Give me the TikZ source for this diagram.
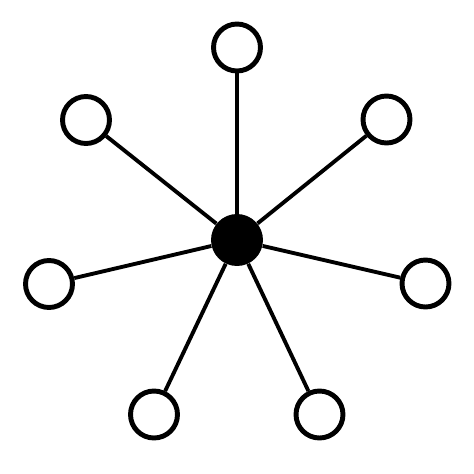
\documentclass[tikz,border=0pt]{standalone}
\usepackage{tikz}

\tikzset{
    leaf/.style={circle, draw=black, fill=white, line width=2.8pt, inner sep=0pt, minimum size=0.94cm},
    hub/.style={circle, fill=black, inner sep=0pt, minimum size=1.04cm},
    spoke/.style={line width=2.2pt, black}
}

\begin{document}
\begin{tikzpicture}[x=0.02cm, y=-0.02cm]
    % Frame of the picture (pixel grid of the reference)
    \useasboundingbox (0,0) rectangle (474,474);
    \fill[white] (0,0) rectangle (474,474);

    % Centre of the star
    \node[hub] (hub) at (237,240) {};

    % Outer ends
    \foreach \name/\x/\y in {top/237/47.5, upleft/86/120, upright/386.5/119.5,
                             left/49/284, right/425.5/283.5,
                             lowleft/154/414.5, lowright/319.5/414.5} {
        \node[leaf] (\name) at (\x,\y) {};
    }

    % Spokes from the centre to each end
    \foreach \name in {top,upleft,upright,left,right,lowleft,lowright} {
        \draw[spoke] (hub) -- (\name);
    }
\end{tikzpicture}
\end{document}
